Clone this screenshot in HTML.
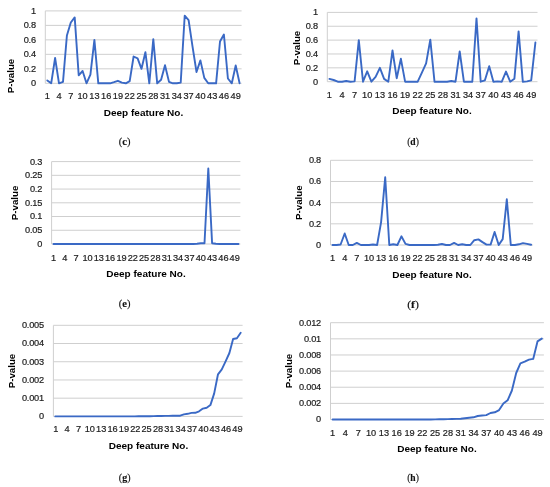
<!DOCTYPE html>
<html><head><meta charset="utf-8"><title>Figure</title>
<style>html,body{margin:0;padding:0;background:#fff}svg{display:block}.t{font-family:"Liberation Sans",sans-serif;font-size:9.2px;fill:#1c1c1c;stroke:#1c1c1c;stroke-width:0.2px}.b{font-family:"Liberation Sans",sans-serif;font-size:9.6px;font-weight:bold;fill:#000}.cap{font-family:"Liberation Serif",serif;font-size:11.3px;fill:#111;stroke:#111;stroke-width:0.15px}.cap tspan{font-weight:bold}</style></head>
<body>
<svg width="550" height="487" viewBox="0 0 550 487">
<rect width="550" height="487" fill="#fff"/>
<g id="chart-c">
<line x1="45.3" y1="83.30" x2="241.6" y2="83.30" stroke="#CFCFCF" stroke-width="1"/><text class="t" x="35.8" y="86.20" text-anchor="end" letter-spacing="-0.22">0</text>
<line x1="45.3" y1="68.82" x2="241.6" y2="68.82" stroke="#CFCFCF" stroke-width="1"/><text class="t" x="35.8" y="71.72" text-anchor="end" letter-spacing="-0.22">0.2</text>
<line x1="45.3" y1="54.34" x2="241.6" y2="54.34" stroke="#CFCFCF" stroke-width="1"/><text class="t" x="35.8" y="57.24" text-anchor="end" letter-spacing="-0.22">0.4</text>
<line x1="45.3" y1="39.86" x2="241.6" y2="39.86" stroke="#CFCFCF" stroke-width="1"/><text class="t" x="35.8" y="42.76" text-anchor="end" letter-spacing="-0.22">0.6</text>
<line x1="45.3" y1="25.38" x2="241.6" y2="25.38" stroke="#CFCFCF" stroke-width="1"/><text class="t" x="35.8" y="28.28" text-anchor="end" letter-spacing="-0.22">0.8</text>
<line x1="45.3" y1="10.90" x2="241.6" y2="10.90" stroke="#CFCFCF" stroke-width="1"/><text class="t" x="35.8" y="13.80" text-anchor="end" letter-spacing="-0.22">1</text>
<line x1="45.3" y1="10.90" x2="45.3" y2="83.30" stroke="#CFCFCF" stroke-width="1"/>
<polyline fill="none" stroke="#3A69C5" stroke-width="1.9" stroke-linejoin="round" stroke-linecap="round" points="47.3,80.4 51.2,83.3 55.1,58.0 59.0,83.3 63.0,81.9 66.9,35.5 70.8,22.5 74.7,17.4 78.7,75.3 82.6,71.0 86.5,83.3 90.4,74.6 94.4,39.9 98.3,83.3 102.2,83.3 106.2,83.3 110.1,83.3 114.0,82.2 117.9,80.8 121.9,82.6 125.8,83.3 129.7,81.1 133.6,56.5 137.6,58.3 141.5,68.8 145.4,52.2 149.3,83.3 153.3,39.1 157.2,83.3 161.1,79.7 165.0,65.2 169.0,81.9 172.9,83.3 176.8,83.3 180.7,82.6 184.7,15.7 188.6,20.1 192.5,46.4 196.5,72.0 200.4,60.4 204.3,77.9 208.2,83.3 212.2,83.3 216.1,83.3 220.0,41.5 223.9,34.5 227.9,78.5 231.8,83.3 235.7,65.5 239.6,83.3"/>
<text class="t" x="47.3" y="98.6" text-anchor="middle">1</text><text class="t" x="59.0" y="98.6" text-anchor="middle">4</text><text class="t" x="70.8" y="98.6" text-anchor="middle">7</text><text class="t" x="82.6" y="98.6" text-anchor="middle">10</text><text class="t" x="94.4" y="98.6" text-anchor="middle">13</text><text class="t" x="106.2" y="98.6" text-anchor="middle">16</text><text class="t" x="117.9" y="98.6" text-anchor="middle">19</text><text class="t" x="129.7" y="98.6" text-anchor="middle">22</text><text class="t" x="141.5" y="98.6" text-anchor="middle">25</text><text class="t" x="153.3" y="98.6" text-anchor="middle">28</text><text class="t" x="165.0" y="98.6" text-anchor="middle">31</text><text class="t" x="176.8" y="98.6" text-anchor="middle">34</text><text class="t" x="188.6" y="98.6" text-anchor="middle">37</text><text class="t" x="200.4" y="98.6" text-anchor="middle">40</text><text class="t" x="212.2" y="98.6" text-anchor="middle">43</text><text class="t" x="223.9" y="98.6" text-anchor="middle">46</text><text class="t" x="235.7" y="98.6" text-anchor="middle">49</text>
<text class="b" transform="translate(13.7,76.0) rotate(-90)" text-anchor="middle" textLength="34.5" lengthAdjust="spacingAndGlyphs">P-value</text>
<text class="b" x="143.5" y="116.0" text-anchor="middle" textLength="79.5" lengthAdjust="spacingAndGlyphs">Deep feature No.</text>
<text class="cap" x="124.7" y="144.5" text-anchor="middle" textLength="11.7" lengthAdjust="spacingAndGlyphs">(<tspan>c</tspan>)</text>
</g>
<g id="chart-d">
<line x1="327.3" y1="81.70" x2="537.5" y2="81.70" stroke="#CFCFCF" stroke-width="1"/><text class="t" x="317.8" y="84.60" text-anchor="end" letter-spacing="-0.22">0</text>
<line x1="327.3" y1="67.84" x2="537.5" y2="67.84" stroke="#CFCFCF" stroke-width="1"/><text class="t" x="317.8" y="70.74" text-anchor="end" letter-spacing="-0.22">0.2</text>
<line x1="327.3" y1="53.98" x2="537.5" y2="53.98" stroke="#CFCFCF" stroke-width="1"/><text class="t" x="317.8" y="56.88" text-anchor="end" letter-spacing="-0.22">0.4</text>
<line x1="327.3" y1="40.12" x2="537.5" y2="40.12" stroke="#CFCFCF" stroke-width="1"/><text class="t" x="317.8" y="43.02" text-anchor="end" letter-spacing="-0.22">0.6</text>
<line x1="327.3" y1="26.26" x2="537.5" y2="26.26" stroke="#CFCFCF" stroke-width="1"/><text class="t" x="317.8" y="29.16" text-anchor="end" letter-spacing="-0.22">0.8</text>
<line x1="327.3" y1="12.40" x2="537.5" y2="12.40" stroke="#CFCFCF" stroke-width="1"/><text class="t" x="317.8" y="15.30" text-anchor="end" letter-spacing="-0.22">1</text>
<line x1="327.3" y1="12.40" x2="327.3" y2="81.70" stroke="#CFCFCF" stroke-width="1"/>
<polyline fill="none" stroke="#3A69C5" stroke-width="1.9" stroke-linejoin="round" stroke-linecap="round" points="329.4,78.9 333.6,80.0 337.8,81.7 342.0,81.7 346.2,81.0 350.4,81.7 354.6,81.4 358.8,40.1 363.0,81.7 367.2,71.3 371.4,81.7 375.6,76.8 379.9,67.8 384.1,78.9 388.3,81.7 392.5,50.5 396.7,78.2 400.9,58.8 405.1,81.7 409.3,81.7 413.5,81.7 417.7,81.7 421.9,72.7 426.1,63.4 430.3,39.7 434.5,81.7 438.7,81.7 442.9,81.7 447.1,81.7 451.3,81.0 455.5,81.7 459.7,51.5 463.9,81.7 468.1,81.7 472.3,81.7 476.5,18.4 480.7,81.7 484.9,80.3 489.2,66.2 493.4,81.7 497.6,81.4 501.8,81.7 506.0,71.6 510.2,81.7 514.4,78.7 518.6,31.4 522.8,81.7 527.0,81.4 531.2,80.3 535.4,42.5"/>
<text class="t" x="329.4" y="97.9" text-anchor="middle">1</text><text class="t" x="342.0" y="97.9" text-anchor="middle">4</text><text class="t" x="354.6" y="97.9" text-anchor="middle">7</text><text class="t" x="367.2" y="97.9" text-anchor="middle">10</text><text class="t" x="379.9" y="97.9" text-anchor="middle">13</text><text class="t" x="392.5" y="97.9" text-anchor="middle">16</text><text class="t" x="405.1" y="97.9" text-anchor="middle">19</text><text class="t" x="417.7" y="97.9" text-anchor="middle">22</text><text class="t" x="430.3" y="97.9" text-anchor="middle">25</text><text class="t" x="442.9" y="97.9" text-anchor="middle">28</text><text class="t" x="455.5" y="97.9" text-anchor="middle">31</text><text class="t" x="468.1" y="97.9" text-anchor="middle">34</text><text class="t" x="480.7" y="97.9" text-anchor="middle">37</text><text class="t" x="493.4" y="97.9" text-anchor="middle">40</text><text class="t" x="506.0" y="97.9" text-anchor="middle">43</text><text class="t" x="518.6" y="97.9" text-anchor="middle">46</text><text class="t" x="531.2" y="97.9" text-anchor="middle">49</text>
<text class="b" transform="translate(300.2,48.0) rotate(-90)" text-anchor="middle" textLength="34.5" lengthAdjust="spacingAndGlyphs">P-value</text>
<text class="b" x="432.0" y="114.0" text-anchor="middle" textLength="79.5" lengthAdjust="spacingAndGlyphs">Deep feature No.</text>
<text class="cap" x="413.0" y="144.5" text-anchor="middle" textLength="11.7" lengthAdjust="spacingAndGlyphs">(<tspan>d</tspan>)</text>
</g>
<g id="chart-e">
<line x1="51.6" y1="244.00" x2="240.4" y2="244.00" stroke="#CFCFCF" stroke-width="1"/><text class="t" x="42.1" y="246.90" text-anchor="end" letter-spacing="-0.22">0</text>
<line x1="51.6" y1="230.27" x2="240.4" y2="230.27" stroke="#CFCFCF" stroke-width="1"/><text class="t" x="42.1" y="233.17" text-anchor="end" letter-spacing="-0.22">0.05</text>
<line x1="51.6" y1="216.53" x2="240.4" y2="216.53" stroke="#CFCFCF" stroke-width="1"/><text class="t" x="42.1" y="219.43" text-anchor="end" letter-spacing="-0.22">0.1</text>
<line x1="51.6" y1="202.80" x2="240.4" y2="202.80" stroke="#CFCFCF" stroke-width="1"/><text class="t" x="42.1" y="205.70" text-anchor="end" letter-spacing="-0.22">0.15</text>
<line x1="51.6" y1="189.07" x2="240.4" y2="189.07" stroke="#CFCFCF" stroke-width="1"/><text class="t" x="42.1" y="191.97" text-anchor="end" letter-spacing="-0.22">0.2</text>
<line x1="51.6" y1="175.33" x2="240.4" y2="175.33" stroke="#CFCFCF" stroke-width="1"/><text class="t" x="42.1" y="178.23" text-anchor="end" letter-spacing="-0.22">0.25</text>
<line x1="51.6" y1="161.60" x2="240.4" y2="161.60" stroke="#CFCFCF" stroke-width="1"/><text class="t" x="42.1" y="164.50" text-anchor="end" letter-spacing="-0.22">0.3</text>
<line x1="51.6" y1="161.60" x2="51.6" y2="244.00" stroke="#CFCFCF" stroke-width="1"/>
<polyline fill="none" stroke="#3A69C5" stroke-width="1.9" stroke-linejoin="round" stroke-linecap="round" points="53.5,244.0 57.3,244.0 61.0,244.0 64.8,244.0 68.6,244.0 72.4,244.0 76.1,244.0 79.9,244.0 83.7,244.0 87.5,244.0 91.2,244.0 95.0,244.0 98.8,244.0 102.6,244.0 106.4,244.0 110.1,244.0 113.9,244.0 117.7,244.0 121.5,244.0 125.2,244.0 129.0,244.0 132.8,244.0 136.6,244.0 140.3,244.0 144.1,244.0 147.9,244.0 151.7,244.0 155.4,244.0 159.2,244.0 163.0,244.0 166.8,244.0 170.5,244.0 174.3,244.0 178.1,244.0 181.9,244.0 185.6,244.0 189.4,244.0 193.2,244.0 197.0,243.7 200.8,243.2 204.5,243.2 208.3,168.5 212.1,243.2 215.9,243.7 219.6,244.0 223.4,244.0 227.2,244.0 231.0,244.0 234.7,244.0 238.5,244.0"/>
<text class="t" x="53.5" y="260.7" text-anchor="middle">1</text><text class="t" x="64.8" y="260.7" text-anchor="middle">4</text><text class="t" x="76.1" y="260.7" text-anchor="middle">7</text><text class="t" x="87.5" y="260.7" text-anchor="middle">10</text><text class="t" x="98.8" y="260.7" text-anchor="middle">13</text><text class="t" x="110.1" y="260.7" text-anchor="middle">16</text><text class="t" x="121.5" y="260.7" text-anchor="middle">19</text><text class="t" x="132.8" y="260.7" text-anchor="middle">22</text><text class="t" x="144.1" y="260.7" text-anchor="middle">25</text><text class="t" x="155.4" y="260.7" text-anchor="middle">28</text><text class="t" x="166.8" y="260.7" text-anchor="middle">31</text><text class="t" x="178.1" y="260.7" text-anchor="middle">34</text><text class="t" x="189.4" y="260.7" text-anchor="middle">37</text><text class="t" x="200.8" y="260.7" text-anchor="middle">40</text><text class="t" x="212.1" y="260.7" text-anchor="middle">43</text><text class="t" x="223.4" y="260.7" text-anchor="middle">46</text><text class="t" x="234.7" y="260.7" text-anchor="middle">49</text>
<text class="b" transform="translate(17.8,202.9) rotate(-90)" text-anchor="middle" textLength="34.5" lengthAdjust="spacingAndGlyphs">P-value</text>
<text class="b" x="146.0" y="277.0" text-anchor="middle" textLength="79.5" lengthAdjust="spacingAndGlyphs">Deep feature No.</text>
<text class="cap" x="124.7" y="307.4" text-anchor="middle" textLength="11.7" lengthAdjust="spacingAndGlyphs">(<tspan>e</tspan>)</text>
</g>
<g id="chart-f">
<line x1="330.5" y1="245.00" x2="533.1" y2="245.00" stroke="#CFCFCF" stroke-width="1"/><text class="t" x="321.0" y="247.90" text-anchor="end" letter-spacing="-0.22">0</text>
<line x1="330.5" y1="223.82" x2="533.1" y2="223.82" stroke="#CFCFCF" stroke-width="1"/><text class="t" x="321.0" y="226.72" text-anchor="end" letter-spacing="-0.22">0.2</text>
<line x1="330.5" y1="202.65" x2="533.1" y2="202.65" stroke="#CFCFCF" stroke-width="1"/><text class="t" x="321.0" y="205.55" text-anchor="end" letter-spacing="-0.22">0.4</text>
<line x1="330.5" y1="181.48" x2="533.1" y2="181.48" stroke="#CFCFCF" stroke-width="1"/><text class="t" x="321.0" y="184.38" text-anchor="end" letter-spacing="-0.22">0.6</text>
<line x1="330.5" y1="160.30" x2="533.1" y2="160.30" stroke="#CFCFCF" stroke-width="1"/><text class="t" x="321.0" y="163.20" text-anchor="end" letter-spacing="-0.22">0.8</text>
<line x1="330.5" y1="160.30" x2="330.5" y2="245.00" stroke="#CFCFCF" stroke-width="1"/>
<polyline fill="none" stroke="#3A69C5" stroke-width="1.9" stroke-linejoin="round" stroke-linecap="round" points="332.5,245.0 336.6,245.0 340.6,244.5 344.7,233.5 348.7,245.0 352.8,245.0 356.8,242.9 360.9,245.0 364.9,245.0 369.0,245.0 373.0,244.5 377.1,245.0 381.1,222.1 385.2,177.3 389.3,245.0 393.3,244.2 397.4,245.0 401.4,236.3 405.5,243.9 409.5,245.0 413.6,245.0 417.6,245.0 421.7,245.0 425.7,245.0 429.8,245.0 433.8,245.0 437.9,244.7 441.9,244.0 446.0,245.0 450.0,245.0 454.1,242.9 458.1,245.0 462.2,244.2 466.2,245.0 470.3,245.0 474.3,240.2 478.4,239.4 482.5,242.1 486.5,244.6 490.6,244.6 494.6,232.0 498.7,245.0 502.7,239.1 506.8,199.3 510.8,245.0 514.9,245.0 518.9,244.3 523.0,243.1 527.0,243.9 531.1,244.8"/>
<text class="t" x="332.5" y="260.9" text-anchor="middle">1</text><text class="t" x="344.7" y="260.9" text-anchor="middle">4</text><text class="t" x="356.8" y="260.9" text-anchor="middle">7</text><text class="t" x="369.0" y="260.9" text-anchor="middle">10</text><text class="t" x="381.1" y="260.9" text-anchor="middle">13</text><text class="t" x="393.3" y="260.9" text-anchor="middle">16</text><text class="t" x="405.5" y="260.9" text-anchor="middle">19</text><text class="t" x="417.6" y="260.9" text-anchor="middle">22</text><text class="t" x="429.8" y="260.9" text-anchor="middle">25</text><text class="t" x="441.9" y="260.9" text-anchor="middle">28</text><text class="t" x="454.1" y="260.9" text-anchor="middle">31</text><text class="t" x="466.2" y="260.9" text-anchor="middle">34</text><text class="t" x="478.4" y="260.9" text-anchor="middle">37</text><text class="t" x="490.6" y="260.9" text-anchor="middle">40</text><text class="t" x="502.7" y="260.9" text-anchor="middle">43</text><text class="t" x="514.9" y="260.9" text-anchor="middle">46</text><text class="t" x="527.0" y="260.9" text-anchor="middle">49</text>
<text class="b" transform="translate(301.7,202.7) rotate(-90)" text-anchor="middle" textLength="34.5" lengthAdjust="spacingAndGlyphs">P-value</text>
<text class="b" x="432.0" y="277.8" text-anchor="middle" textLength="79.5" lengthAdjust="spacingAndGlyphs">Deep feature No.</text>
<text class="cap" x="413.0" y="307.5" text-anchor="middle" textLength="11.7" lengthAdjust="spacingAndGlyphs">(<tspan>f</tspan>)</text>
</g>
<g id="chart-g">
<line x1="53.4" y1="416.40" x2="242.6" y2="416.40" stroke="#CFCFCF" stroke-width="1"/><text class="t" x="43.9" y="419.30" text-anchor="end" letter-spacing="-0.22">0</text>
<line x1="53.4" y1="398.18" x2="242.6" y2="398.18" stroke="#CFCFCF" stroke-width="1"/><text class="t" x="43.9" y="401.08" text-anchor="end" letter-spacing="-0.22">0.001</text>
<line x1="53.4" y1="379.96" x2="242.6" y2="379.96" stroke="#CFCFCF" stroke-width="1"/><text class="t" x="43.9" y="382.86" text-anchor="end" letter-spacing="-0.22">0.002</text>
<line x1="53.4" y1="361.74" x2="242.6" y2="361.74" stroke="#CFCFCF" stroke-width="1"/><text class="t" x="43.9" y="364.64" text-anchor="end" letter-spacing="-0.22">0.003</text>
<line x1="53.4" y1="343.52" x2="242.6" y2="343.52" stroke="#CFCFCF" stroke-width="1"/><text class="t" x="43.9" y="346.42" text-anchor="end" letter-spacing="-0.22">0.004</text>
<line x1="53.4" y1="325.30" x2="242.6" y2="325.30" stroke="#CFCFCF" stroke-width="1"/><text class="t" x="43.9" y="328.20" text-anchor="end" letter-spacing="-0.22">0.005</text>
<line x1="53.4" y1="325.30" x2="53.4" y2="416.40" stroke="#CFCFCF" stroke-width="1"/>
<polyline fill="none" stroke="#3A69C5" stroke-width="1.9" stroke-linejoin="round" stroke-linecap="round" points="55.3,416.4 59.1,416.4 62.9,416.4 66.6,416.4 70.4,416.4 74.2,416.4 78.0,416.4 81.8,416.4 85.6,416.4 89.3,416.4 93.1,416.4 96.9,416.4 100.7,416.4 104.5,416.4 108.3,416.4 112.1,416.4 115.8,416.4 119.6,416.4 123.4,416.4 127.2,416.4 131.0,416.4 134.8,416.4 138.5,416.3 142.3,416.3 146.1,416.2 149.9,416.2 153.7,416.1 157.5,416.0 161.2,416.0 165.0,415.9 168.8,415.9 172.6,415.8 176.4,415.7 180.2,415.7 183.9,414.4 187.7,413.8 191.5,412.9 195.3,412.8 199.1,411.3 202.9,408.6 206.7,407.8 210.4,405.1 214.2,393.4 218.0,374.3 221.8,369.4 225.6,361.4 229.4,353.0 233.1,339.0 236.9,338.2 240.7,332.8"/>
<text class="t" x="55.8" y="432.2" text-anchor="middle">1</text><text class="t" x="67.1" y="432.2" text-anchor="middle">4</text><text class="t" x="78.5" y="432.2" text-anchor="middle">7</text><text class="t" x="89.8" y="432.2" text-anchor="middle">10</text><text class="t" x="101.2" y="432.2" text-anchor="middle">13</text><text class="t" x="112.6" y="432.2" text-anchor="middle">16</text><text class="t" x="123.9" y="432.2" text-anchor="middle">19</text><text class="t" x="135.3" y="432.2" text-anchor="middle">22</text><text class="t" x="146.6" y="432.2" text-anchor="middle">25</text><text class="t" x="158.0" y="432.2" text-anchor="middle">28</text><text class="t" x="169.3" y="432.2" text-anchor="middle">31</text><text class="t" x="180.7" y="432.2" text-anchor="middle">34</text><text class="t" x="192.0" y="432.2" text-anchor="middle">37</text><text class="t" x="203.4" y="432.2" text-anchor="middle">40</text><text class="t" x="214.7" y="432.2" text-anchor="middle">43</text><text class="t" x="226.1" y="432.2" text-anchor="middle">46</text><text class="t" x="237.4" y="432.2" text-anchor="middle">49</text>
<text class="b" transform="translate(15.0,371.0) rotate(-90)" text-anchor="middle" textLength="34.5" lengthAdjust="spacingAndGlyphs">P-value</text>
<text class="b" x="148.5" y="449.0" text-anchor="middle" textLength="79.5" lengthAdjust="spacingAndGlyphs">Deep feature No.</text>
<text class="cap" x="124.7" y="481.0" text-anchor="middle" textLength="11.7" lengthAdjust="spacingAndGlyphs">(<tspan>g</tspan>)</text>
</g>
<g id="chart-h">
<line x1="330.5" y1="419.50" x2="543.9" y2="419.50" stroke="#CFCFCF" stroke-width="1"/><text class="t" x="321.0" y="422.40" text-anchor="end" letter-spacing="-0.22">0</text>
<line x1="330.5" y1="403.37" x2="543.9" y2="403.37" stroke="#CFCFCF" stroke-width="1"/><text class="t" x="321.0" y="406.27" text-anchor="end" letter-spacing="-0.22">0.002</text>
<line x1="330.5" y1="387.23" x2="543.9" y2="387.23" stroke="#CFCFCF" stroke-width="1"/><text class="t" x="321.0" y="390.13" text-anchor="end" letter-spacing="-0.22">0.004</text>
<line x1="330.5" y1="371.10" x2="543.9" y2="371.10" stroke="#CFCFCF" stroke-width="1"/><text class="t" x="321.0" y="374.00" text-anchor="end" letter-spacing="-0.22">0.006</text>
<line x1="330.5" y1="354.97" x2="543.9" y2="354.97" stroke="#CFCFCF" stroke-width="1"/><text class="t" x="321.0" y="357.87" text-anchor="end" letter-spacing="-0.22">0.008</text>
<line x1="330.5" y1="338.83" x2="543.9" y2="338.83" stroke="#CFCFCF" stroke-width="1"/><text class="t" x="321.0" y="341.73" text-anchor="end" letter-spacing="-0.22">0.01</text>
<line x1="330.5" y1="322.70" x2="543.9" y2="322.70" stroke="#CFCFCF" stroke-width="1"/><text class="t" x="321.0" y="325.60" text-anchor="end" letter-spacing="-0.22">0.012</text>
<line x1="330.5" y1="322.70" x2="330.5" y2="419.50" stroke="#CFCFCF" stroke-width="1"/>
<polyline fill="none" stroke="#3A69C5" stroke-width="1.9" stroke-linejoin="round" stroke-linecap="round" points="332.6,419.5 336.9,419.5 341.2,419.5 345.4,419.5 349.7,419.5 354.0,419.5 358.2,419.5 362.5,419.5 366.8,419.5 371.0,419.5 375.3,419.5 379.6,419.5 383.9,419.5 388.1,419.5 392.4,419.5 396.7,419.5 400.9,419.5 405.2,419.5 409.5,419.5 413.7,419.5 418.0,419.5 422.3,419.5 426.5,419.5 430.8,419.5 435.1,419.4 439.3,419.3 443.6,419.3 447.9,419.1 452.1,419.0 456.4,418.9 460.7,418.7 464.9,418.2 469.2,417.7 473.5,417.3 477.7,416.0 482.0,415.5 486.3,415.1 490.5,413.0 494.8,412.3 499.1,410.1 503.4,403.6 507.6,400.3 511.9,390.5 516.2,373.0 520.4,363.3 524.7,361.7 529.0,359.6 533.2,358.9 537.5,341.4 541.8,338.6"/>
<text class="t" x="332.6" y="435.7" text-anchor="middle">1</text><text class="t" x="345.4" y="435.7" text-anchor="middle">4</text><text class="t" x="358.2" y="435.7" text-anchor="middle">7</text><text class="t" x="371.0" y="435.7" text-anchor="middle">10</text><text class="t" x="383.9" y="435.7" text-anchor="middle">13</text><text class="t" x="396.7" y="435.7" text-anchor="middle">16</text><text class="t" x="409.5" y="435.7" text-anchor="middle">19</text><text class="t" x="422.3" y="435.7" text-anchor="middle">22</text><text class="t" x="435.1" y="435.7" text-anchor="middle">25</text><text class="t" x="447.9" y="435.7" text-anchor="middle">28</text><text class="t" x="460.7" y="435.7" text-anchor="middle">31</text><text class="t" x="473.5" y="435.7" text-anchor="middle">34</text><text class="t" x="486.3" y="435.7" text-anchor="middle">37</text><text class="t" x="499.1" y="435.7" text-anchor="middle">40</text><text class="t" x="511.9" y="435.7" text-anchor="middle">43</text><text class="t" x="524.7" y="435.7" text-anchor="middle">46</text><text class="t" x="537.5" y="435.7" text-anchor="middle">49</text>
<text class="b" transform="translate(292.0,371.0) rotate(-90)" text-anchor="middle" textLength="34.5" lengthAdjust="spacingAndGlyphs">P-value</text>
<text class="b" x="437.0" y="451.5" text-anchor="middle" textLength="79.5" lengthAdjust="spacingAndGlyphs">Deep feature No.</text>
<text class="cap" x="413.0" y="481.4" text-anchor="middle" textLength="11.7" lengthAdjust="spacingAndGlyphs">(<tspan>h</tspan>)</text>
</g>
</svg>
</body></html>
